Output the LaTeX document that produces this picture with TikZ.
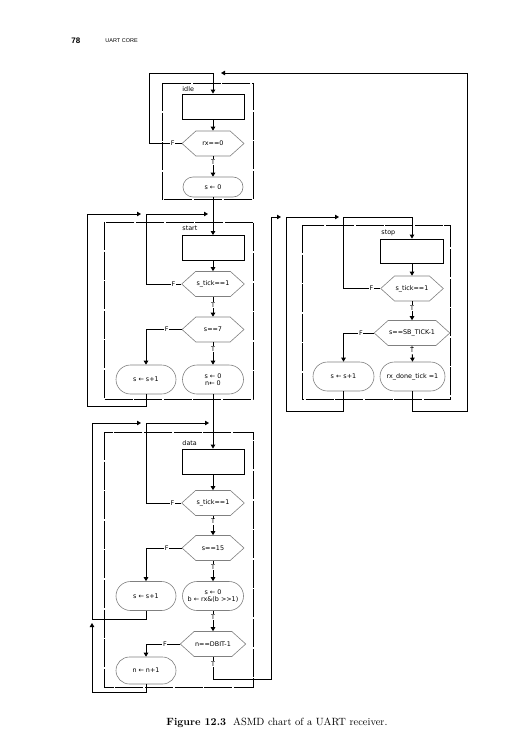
\documentclass[tikz,border=0pt]{standalone}
\usepackage{fontspec}
\newfontfamily\chartfont{DejaVu Sans}
\newfontfamily\headfont{Liberation Sans}
\usetikzlibrary{arrows.meta,shapes.misc,shapes.symbols}

\begin{document}
\begin{tikzpicture}[x=1pt,y=-1pt,line width=0.9pt,
        every node/.style={font=\chartfont\fontsize{6.4}{7.6}\selectfont},
        arr/.style={-{Triangle[length=4pt,width=4.5pt]}},
        statebox/.style={draw,line width=0.8pt,minimum width=62pt,minimum height=25pt},
        decision/.style={shape=signal,signal to=east and west,signal pointer angle=84,draw=gray,line width=0.6pt,minimum width=62pt,minimum height=25pt,inner sep=1pt},
        action/.style={rounded rectangle,draw=gray,line width=0.6pt,minimum width=62pt,minimum height=29pt,align=center,inner sep=1pt},
        block/.style={dash pattern=on 28pt off 1.6pt},
        flag/.style={fill=white,inner sep=0.6pt},
        blocklabel/.style={anchor=west,inner sep=0pt}]
        \useasboundingbox (0,0) rectangle (527,752);

        \node[anchor=west,inner sep=0pt,font=\headfont\bfseries\fontsize{8}{9}\selectfont] (pageNo) at (71,41) {78};
        \node[anchor=west,inner sep=0pt,font=\headfont\fontsize{5.5}{6}\selectfont] (runHead) at (105,41) {UART CORE};

        \draw[block] (162,83) rectangle (253,199);
        \node[blocklabel] (idleL) at (182,89) {idle};
        \node[statebox] (idleR) at (213,106.5) {};
        \node[decision] (idleD) at (213,143.5) {rx==0};
        \node[action,minimum height=20pt] (idleA) at (213,187) {s ← 0};

        \draw[block] (104,222) rectangle (253,399);
        \node[blocklabel] (startL) at (182,228) {start};
        \node[statebox] (startR) at (213,248) {};
        \node[decision] (startD1) at (213,284) {s\_tick==1};
        \node[decision] (startD2) at (213,329.5) {s==7};
        \node[action] (startB) at (146,379.5) {s ← s+1};
        \node[action,minimum width=63pt] (startA) at (213,379.5) {s ← 0\\n← 0};

        \draw[block] (104,432) rectangle (253,687);
        \node[blocklabel] (dataL) at (182,443) {data};
        \node[statebox] (dataR) at (213,461.5) {};
        \node[decision] (dataD1) at (213,503) {s\_tick==1};
        \node[decision] (dataD2) at (213,548) {s==15};
        \node[action] (dataB) at (146,596) {s ← s+1};
        \node[action,minimum width=63pt] (dataA) at (213,596) {s ← 0\\b ← rx\&(b >>1)};
        \node[decision] (dataD3) at (213,644) {n==DBIT-1};
        \node[action,minimum height=27pt] (dataC) at (146,670.5) {n ← n+1};

        \draw[block] (302,225) rectangle (450,399);
        \node[blocklabel] (stopL) at (381,233) {stop};
        \node[statebox,minimum width=63pt,minimum height=24pt] (stopR) at (412,251) {};
        \node[decision] (stopD1) at (412,288.5) {s\_tick==1};
        \node[decision] (stopD2) at (412,333) {s==SB\_TICK-1};
        \node[action,minimum width=63pt] (stopB) at (343.5,376.5) {s ← s+1};
        \node[action,minimum width=67pt] (stopA) at (412.5,376.5) {rx\_done\_tick =1};

        \coordinate (idleF) at (149,73);
        \coordinate (retCorner) at (467,411);
        \coordinate (retTip) at (221,73);
        \coordinate (startF) at (146,214);
        \coordinate (startTip) at (208,214);
        \coordinate (startLoop) at (87,406);
        \coordinate (startBTip) at (141,214);
        \coordinate (dataF) at (146,423);
        \coordinate (dataTip) at (209,423);
        \coordinate (dataLoop) at (92,619);
        \coordinate (dataBTip) at (141,423);
        \coordinate (dataLoopC) at (92,692);
        \coordinate (dataCTip) at (92,623);
        \coordinate (dataOut) at (271,679);
        \coordinate (stopTip) at (281,217);
        \coordinate (stopF) at (343,217);
        \coordinate (stopLoop) at (286,411);
        \coordinate (stopBTip) at (339,217);

        \draw[arr] (idleR.south) -- (idleD.north);
        \draw[arr] (idleD.south) -- (idleA.north) node[flag,pos=0.3] {T};
        \draw[arr] (idleD.west) node[flag,left=6pt] {F} -| (idleF) -- (idleR.north |- idleF) -- (idleR.north);
        \draw[arr] (stopA.south) |- (retCorner) |- (retTip);

        \draw[arr] (idleA.south) -- (startR.north);
        \draw[arr] (startR.south) -- (startD1.north);
        \draw[arr] (startD1.south) -- (startD2.north) node[flag,pos=0.4] {T};
        \draw[arr] (startD1.west) node[flag,left=5pt] {F} -| (startF) -- (startTip);
        \draw[arr] (startD2.west) node[flag,left=12pt] {F} -| (startB.north);
        \draw[arr] (startD2.south) -- (startA.north) node[flag,pos=0.3] {T};
        \draw[arr] (startB.south) |- (startLoop) |- (startBTip);

        \draw[arr] (startA.south) -- (dataR.north);
        \draw[arr] (dataR.south) -- (dataD1.north);
        \draw[arr] (dataD1.south) -- (dataD2.north) node[flag,pos=0.3] {T};
        \draw[arr] (dataD1.west) node[flag,left=6pt] {F} -| (dataF) -- (dataTip);
        \draw[arr] (dataD2.west) node[flag,left=12pt] {F} -| (dataB.north);
        \draw[arr] (dataD2.south) -- (dataA.north) node[flag,pos=0.3] {T};
        \draw[arr] (dataB.south) |- (dataLoop) |- (dataBTip);
        \draw[arr] (dataA.south) -- (dataD3.north) node[flag,pos=0.3] {T};
        \draw[arr] (dataD3.west) node[flag,left=12pt] {F} -| (dataC.north);
        \draw[arr] (dataC.south) |- (dataLoopC) -- (dataCTip);
        \draw[arr] (dataD3.south) node[flag,below=4pt] {T} |- (dataOut) |- (stopTip);

        \draw[arr] (stopR.south) -- (stopD1.north);
        \draw[arr] (stopD1.south) -- (stopD2.north) node[flag,pos=0.35] {T};
        \draw[arr] (stopD1.west) node[flag,left=6pt] {F} -| (stopF) -| (stopR.north);
        \draw[arr] (stopD2.west) node[flag,left=10pt] {F} -| (stopB.north);
        \draw[arr] (stopD2.south) -- (stopA.north) node[flag,pos=0.3] {T};
        \draw[arr] (stopB.south) |- (stopLoop) |- (stopBTip);

        \node[anchor=west,inner sep=0pt,font=\rmfamily\fontsize{10.5}{12}\selectfont] (caption) at (166,723) {\textbf{Figure 12.3}\hspace{7pt}ASMD chart of a UART receiver.};
\end{tikzpicture}
\end{document}
